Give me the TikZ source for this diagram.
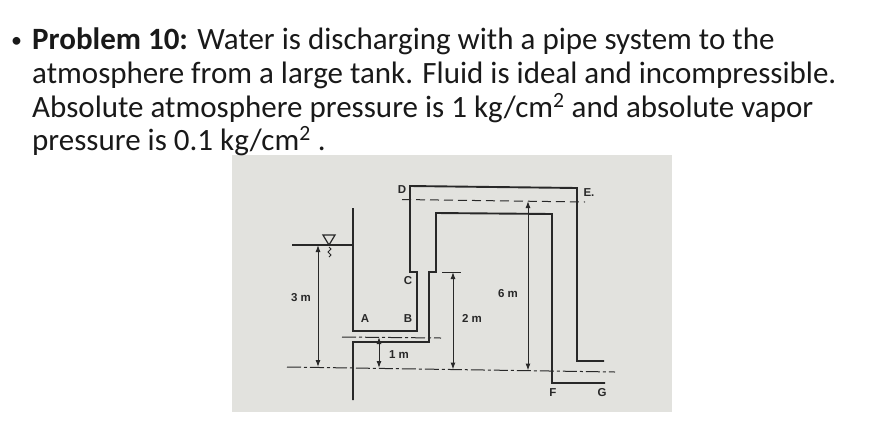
\documentclass[tikz,border=0pt]{standalone}
\usepackage{fontspec}
\setmainfont{Carlito}
\newfontfamily\figfont{Liberation Sans}
\usepackage{tikz}
\usetikzlibrary{arrows.meta}

\begin{document}
\begin{tikzpicture}[x=1pt,y=-1pt]
\definecolor{scangray}{RGB}{226,226,222};
\definecolor{inkdark}{RGB}{40,40,40};
\useasboundingbox (0,0) rectangle (873,424);
\tikzstyle{textline}=[anchor=base west,inner sep=0pt,font=\fontsize{31}{34}\selectfont,text=black!90];
\tikzstyle{pipewall}=[draw=inkdark,line width=1.9pt,line join=miter];
\tikzstyle{axisline}=[draw=inkdark,line width=1pt,dash pattern=on 14pt off 3pt on 3pt off 3pt];
\tikzstyle{dimline}=[draw=inkdark,line width=1pt,{Latex[length=7pt,width=5pt]}-{Latex[length=7pt,width=5pt]}];
\tikzstyle{figlabel}=[inner sep=0pt,text=inkdark,font=\figfont\bfseries\fontsize{11.5}{12}\selectfont];

\fill [scangray] (232,155) rectangle (672,412);

\node [textline,font=\fontsize{22}{34}\selectfont] (bullet) at (11,47) {•};
\node [textline] (line1) at (32,49) {\textbf{Problem 10:} Water is discharging with a pipe system to the};
\node [textline] (line2) at (32,83) {atmosphere from a large tank. Fluid is ideal and incompressible.};
\node [textline] (line3) at (32,117) {Absolute atmosphere pressure is 1 kg/cm\textsuperscript{2} and absolute vapor};
\node [textline] (line4) at (32,150) {pressure is 0.1 kg/cm\textsuperscript{2} .};

\draw [pipewall] (353,208) -- (353,331) -- (417,331) -- (417,272) -- (410,272) -- (410,186) -- (577,188) -- (577,361) -- (604,361);
\draw [pipewall] (353,400) -- (353,342) -- (429,342) -- (429,272) -- (436,272) -- (436,213) -- (552,214) -- (552,383) -- (605,383);

\draw [pipewall,line width=1.5pt] (292,245) -- (353,245);
\draw [draw=inkdark,line width=1.2pt] (323,235) -- (335,235) -- (329,245) -- cycle;
\draw [draw=inkdark,line width=0.9pt] (329,247) -- (331,249) -- (328,252) -- (331,255) -- (329,257);

\draw [axisline] (342,337) -- (441,338);
\draw [axisline] (287,367) -- (615,372);
\draw [draw=inkdark,line width=1pt,dash pattern=on 9pt off 5pt] (402,199.5) -- (585,202);
\draw [draw=inkdark,line width=1pt] (442,272) -- (461,272);

\coordinate (level) at (318,245);
\coordinate (datumA) at (318,367);
\coordinate (axis) at (379,337);
\coordinate (datumB) at (379,368);
\coordinate (stepC) at (453,272);
\coordinate (datumC) at (453,369.5);
\coordinate (crown) at (528,201);
\coordinate (datumD) at (528,370.5);
\draw [dimline] (level) -- (datumA);
\draw [dimline] (axis) -- (datumB);
\draw [dimline] (stepC) -- (datumC);
\draw [dimline] (crown) -- (datumD);

\node [figlabel] (lab3m) at (301,298) {3 m};
\node [figlabel] (lab1m) at (399,355) {1 m};
\node [figlabel] (lab2m) at (472,318) {2 m};
\node [figlabel] (lab6m) at (508,294) {6 m};
\node [figlabel] (labA) at (365,319) {A};
\node [figlabel] (labB) at (408,319) {B};
\node [figlabel] (labC) at (408,281) {C};
\node [figlabel] (labD) at (402,190) {D};
\node [figlabel] (labE) at (589,193) {E.};
\node [figlabel] (labF) at (553,393) {F};
\node [figlabel] (labG) at (602,393) {G};
\end{tikzpicture}
\end{document}
